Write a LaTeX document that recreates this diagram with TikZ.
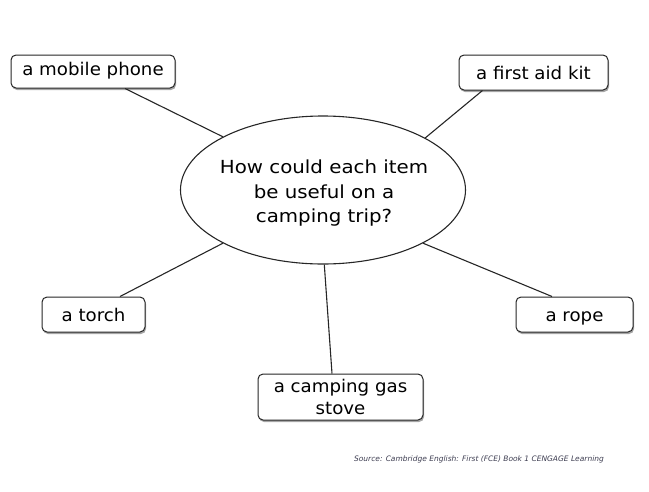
\documentclass[tikz,border=0pt]{standalone}
\usepackage{fontspec}
\setmainfont{DejaVu Sans}
\newfontfamily\boxfont[FakeStretch=1.04]{DejaVu Sans}
\newfontfamily\qfont[FakeStretch=1.1]{DejaVu Sans}
\usetikzlibrary{shapes.geometric,shadows}
\definecolor{srcgray}{RGB}{60,60,80}
\tikzset{
  itembox/.style={draw=black!85, line width=1pt, rounded corners=5pt, fill=white,
    inner sep=0pt, align=center, text height=16pt, text depth=2pt,
    font=\boxfont\fontsize{17.5}{22}\selectfont,
    drop shadow={shadow xshift=1pt, shadow yshift=-2pt, fill=black, opacity=0.35}},
  link/.style={draw=black!85, line width=1.1pt},
  question/.style={ellipse, draw=black!85, line width=1.1pt, inner sep=0pt,
    minimum width=285pt, minimum height=148pt},
  qtextstyle/.style={align=center, inner sep=0pt,
    font=\qfont\fontsize{18}{24.5}\selectfont}
}
\begin{document}
\begin{tikzpicture}[x=1pt,y=-1pt]
\useasboundingbox (0,0) rectangle (649,491);
\node[question] (q) at (323,190) {};
\node[qtextstyle] (qt) at (324,193.5) {How could each item\\be useful on a\\camping trip?};
\node[itembox, minimum width=164pt, minimum height=33pt, text height=12pt, text depth=5pt] (mob) at (93,71.5) {a mobile phone};
\node[itembox, minimum width=149pt, minimum height=35pt] (aid) at (533.5,72.5) {a first aid kit};
\node[itembox, minimum width=103pt, minimum height=35pt] (torch) at (93.5,314.5) {a torch};
\node[itembox, minimum width=117pt, minimum height=35pt] (rope) at (574.5,314.5) {a rope};
\node[itembox, minimum width=165pt, minimum height=46pt, text height=, text depth=] (stove) at (340.5,397) {a camping gas\\stove};
\draw[link] ([xshift=32pt]mob.south) -- (q.152.8);
\draw[link] ([xshift=-51pt]aid.south) -- (q.27.7);
\draw[link] ([xshift=26.5pt]torch.north) -- (q.208.8);
\draw[link] ([xshift=-22.5pt]rope.north) -- (q.332);
\draw[link] ([xshift=-8.5pt]stove.north) -- (q.271.5);
\node[font=\fontsize{7.5}{9}\selectfont\itshape, text=srcgray, inner sep=0pt] (src) at (479,459)
  {Source: Cambridge English: First (FCE) Book 1 CENGAGE Learning};
\end{tikzpicture}
\end{document}
